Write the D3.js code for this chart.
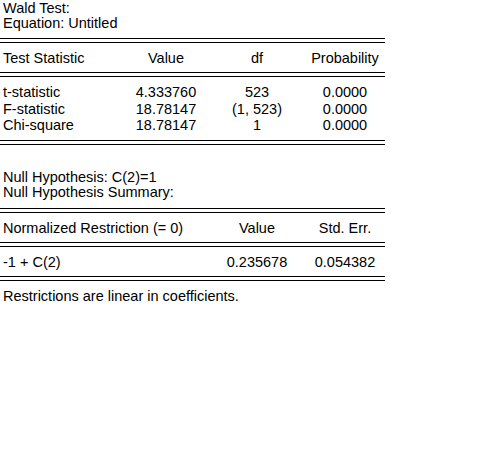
<!DOCTYPE html>
<html><head><meta charset="utf-8">
<script src="https://cdn.jsdelivr.net/npm/d3@7"></script>
<style>body{margin:0;background:#fff}text{font-family:"Liberation Sans",Arial,sans-serif;font-size:14.5px;fill:#000}</style>
</head><body><div id="chart"></div>
<script>
const testHeaders = ["Test Statistic", "Value", "df", "Probability"];
const testNames = ["t-statistic", "F-statistic", "Chi-square"];
const testValues = ["4.333760", "18.78147", "18.78147"];
const testDf = ["523", "(1, 523)", "1"];
const testProb = ["0.0000", "0.0000", "0.0000"];
const restrHeaders = ["Normalized Restriction (= 0)", "Value", "Std. Err."];
const restrNames = ["-1 + C(2)"];
const restrValues = ["0.235678"];
const restrErr = ["0.054382"];

const svg = d3.select("#chart").append("svg").attr("width", 482).attr("height", 455);
const lineX = d3.scaleLinear().domain([0, 1]).range([0, 385]);
// column centres (first column left aligned)
const col = d3.scaleOrdinal().domain([1, 2, 3]).range([166, 257, 345]);

function txt(s, x, y, anchor) {
  svg.append("text").attr("x", x).attr("y", y).attr("dy", "0.35em")
    .attr("text-anchor", anchor || "start").text(s);
}
function dbl(y) {
  [y, y + 4].forEach(v => svg.append("line")
    .attr("x1", lineX(0)).attr("x2", lineX(1)).attr("y1", v + 0.5).attr("y2", v + 0.5)
    .attr("stroke", "#000").attr("stroke-width", 1));
}

txt("Wald Test:", 3, 8);
txt("Equation: Untitled", 3, 23);
dbl(38);
testHeaders.forEach((h, i) => i ? txt(h, col(i), 58, "middle") : txt(h, 3, 58));
dbl(72);
const rowY = d3.scaleLinear().domain([0, 1]).range([92, 108.5]);
testNames.forEach((n, r) => {
  txt(n, 3, rowY(r));
  txt(testValues[r], col(1), rowY(r), "middle");
  txt(testDf[r], col(2), rowY(r), "middle");
  txt(testProb[r], col(3), rowY(r), "middle");
});
dbl(140);

txt("Null Hypothesis: C(2)=1", 3, 177);
txt("Null Hypothesis Summary:", 3, 192);
dbl(208);
restrHeaders.forEach((h, i) => i ? txt(h, col(i + 1), 228, "middle") : txt(h, 3, 228));
dbl(242);
restrNames.forEach((n, r) => {
  const y = 262 + r * 16.5;
  txt(n, 3, y);
  txt(restrValues[r], col(2), y, "middle");
  txt(restrErr[r], col(3), y, "middle");
});
dbl(276);
txt("Restrictions are linear in coefficients.", 3, 296);
</script></body></html>
